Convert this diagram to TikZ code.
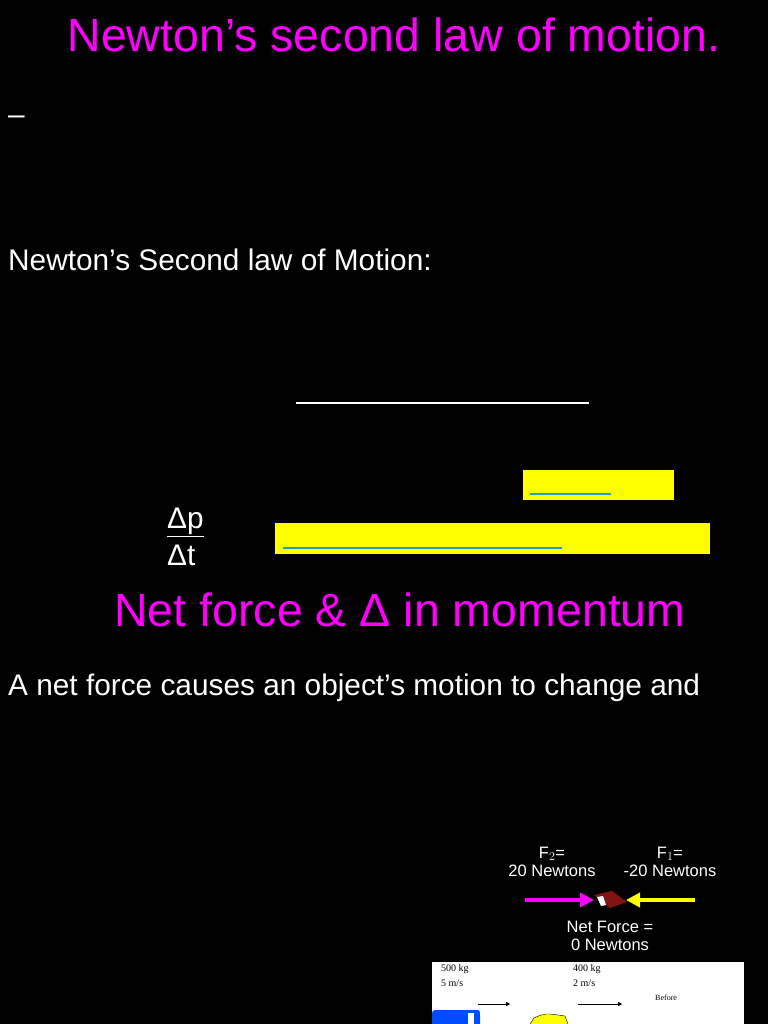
\documentclass[tikz,border=0pt]{standalone}
\usepackage{fontspec}
\setmainfont{Liberation Sans}
\newfontfamily\serifa{Liberation Serif}
\usetikzlibrary{arrows.meta}
\definecolor{mag}{RGB}{255,0,255}
\definecolor{yel}{RGB}{255,255,0}
\definecolor{bl}{RGB}{30,160,200}
\definecolor{book}{RGB}{130,20,20}
\begin{document}
\begin{tikzpicture}[x=1pt,y=-1pt,
  big/.style={text=mag,font=\fontsize{46.5}{52}\selectfont,inner sep=0},
  body/.style={text=white,font=\fontsize{29.8}{34}\selectfont,inner sep=0,anchor=west},
  small/.style={text=white,font=\fontsize{16.5}{18.5}\selectfont,inner sep=0,align=center},
  tiny/.style={text=black,font=\serifa\fontsize{10}{12}\selectfont,inner sep=0,anchor=west}]
\fill[black] (0,0) rectangle (768,1024);
\useasboundingbox (0,0) rectangle (768,1024);
\node[big] (title) at (394,35) {Newton’s second law of motion.};
\node[body] (dash) at (8,120) {–};
\node[body] (sec) at (8,260) {Newton’s Second law of Motion:};
\draw[white,line width=2] (296,403) -- (589,403);
\fill[yel] (523,470) rectangle (674,500);
\draw[bl,line width=1.5] (530,494) -- (611,494);
\fill[yel] (275,523) rectangle (710,554);
\draw[bl,line width=1.5] (283,548) -- (562,548);
\node[body] (dp) at (167,522) {\underline{Δp}};
\node[body] (dt) at (167,555) {Δt};
\node[big] (net) at (400,610) {Net force \& Δ in momentum};
\node[body] (anet) at (8,688) {A net force causes an object’s motion to change and};
\node[small] (f2) at (552,862) {F$_2$=\\20 Newtons};
\node[small] (f1) at (670,862) {F$_1$=\\-20 Newtons};
\draw[mag,line width=4,-{Triangle[length=14,width=14]}] (525,900) -- (594,900);
\draw[yel,line width=4,-{Triangle[length=14,width=14]}] (695,900) -- (626,900);
\fill[book] (594,895) -- (612,891) -- (627,902) -- (610,908) -- cycle;
\fill[white] (597,897) -- (603,896) -- (606,905) -- (601,906) -- cycle;
\node[small] (nf) at (610,936) {Net Force =\\0 Newtons};
\fill[white] (432,962) rectangle (744,1024);
\node[tiny] (m1) at (441,969) {500 kg};
\node[tiny] (v1) at (441,983) {5 m/s};
\node[tiny] (m2) at (573,969) {400 kg};
\node[tiny] (v2) at (573,983) {2 m/s};
\node[tiny,font=\serifa\fontsize{8}{10}\selectfont] (bf) at (655,998) {Before};
\draw[black,-{Triangle[length=4,width=4]}] (478,1004) -- (510,1004);
\draw[black,-{Triangle[length=4,width=4]}] (578,1004) -- (622,1004);
\fill[blue!70!cyan] (432,1024) -- (432,1016) .. controls (432,1010) .. (440,1010) -- (475,1010) .. controls (480,1010) .. (480,1016) -- (480,1024) -- cycle;
\fill[white] (468,1013) rectangle (474,1024);
\draw[black,fill=yel] (530,1024) -- (534,1018) .. controls (545,1013) .. (565,1016) -- (568,1024);
\end{tikzpicture}
\end{document}
